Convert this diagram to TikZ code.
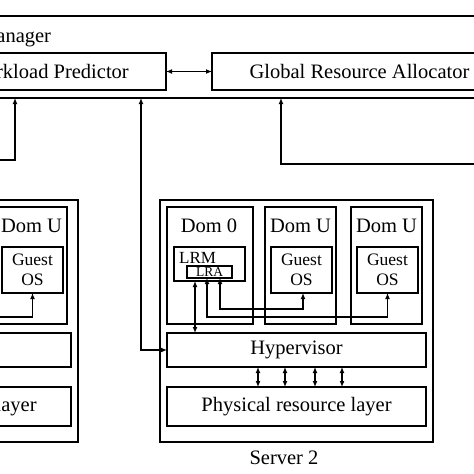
\documentclass[tikz,border=0pt]{standalone}
\usepackage{fontspec}
\setmainfont{Liberation Serif}
\usetikzlibrary{arrows.meta}
\tikzset{
  box/.style={draw, line width=1.7pt, inner sep=0pt, outer sep=0pt},
  big/.style={font=\fontsize{20.5}{24}\selectfont, inner sep=0pt},
  mid/.style={font=\fontsize{17.5}{20.4}\selectfont, inner sep=0pt, align=center},
  lrmtxt/.style={font=\fontsize{17}{19}\selectfont, inner sep=0pt},
  lratxt/.style={font=\fontsize{13.5}{15}\selectfont, inner sep=0pt},
  conn/.style={line width=1.4pt, -{Latex[length=6pt,width=5pt]}},
  dconn/.style={line width=1.4pt, {Latex[length=6pt,width=5pt]}-{Latex[length=6pt,width=5pt]}},
}
\newcommand\bx[5]{\node[box, minimum width={(#4)-(#2)}, minimum height={(#5)-(#3)}] (#1) at ({((#2)+(#4))/2},{((#3)+(#5))/2}) {};}
\newcommand\drawserver[2]{%
  \begin{scope}[xshift=#2]
    \bx{#1outer}{160}{200}{433}{442}
    \bx{#1dom0}{167}{207}{253}{324}
    \node[big] (#1dom0t) at (209,226) {Dom 0};
    \bx{#1lrm}{174}{247}{245}{281}
    \node[lrmtxt, anchor=base west] (#1lrmt) at (179,263) {LRM};
    \bx{#1lra}{187}{266}{232}{278}
    \node[lratxt] (#1lrat) at (209.5,272.5) {LRA};
    \bx{#1domu1}{265}{207}{336}{324}
    \node[big] (#1domu1t) at (300.5,226) {Dom U};
    \bx{#1gos1}{271}{247}{332}{293}
    \node[mid] (#1gos1t) at (301.5,270) {Guest\\OS};
    \bx{#1domu2}{351}{207}{422}{324}
    \node[big] (#1domu2t) at (386.5,226) {Dom U};
    \bx{#1gos2}{357}{247}{418}{293}
    \node[mid] (#1gos2t) at (387.5,270) {Guest\\OS};
    \bx{#1hyp}{167}{333}{426}{367}
    \node[big] (#1hypt) at (296.5,350) {Hypervisor};
    \bx{#1phys}{167}{387}{426}{426}
    \node[big] (#1physt) at (296.5,406.5) {Physical resource layer};
    % LRM <-> hypervisor
    \draw[dconn] ([xshift=-14.5pt]#1lrm.south) -- ([xshift=-101.5pt]#1hyp.north);
    % LRA <-> guest OS
    \draw[dconn] ([xshift=-2.5pt]#1lra.south) -- ++(0,39) -| (#1gos2.south);
    \draw[dconn] ([xshift=10.5pt]#1lra.south) -- ++(0,31) -| ([xshift=1.5pt]#1gos1.south);
    % hypervisor <-> physical layer
    \foreach \dx in {-38.5,-11.5,18.5,45.5}
      \draw[dconn] ([xshift=\dx pt]#1hyp.south) -- ([xshift=\dx pt]#1phys.north);
  \end{scope}}
\begin{document}
\begin{tikzpicture}[x=1pt,y=-1pt]
  \useasboundingbox (0,0) rectangle (474,474);
  \clip (0,0) rectangle (474,474);
  \fill[white] (0,0) rectangle (474,474);
  % manager
  \bx{mgr}{-40}{16}{520}{98}
  \node[big, anchor=base west] (mgrt) at (-22,42.5) {Manager};
  \bx{wp}{-69}{53}{166}{90}
  \node[big] (wpt) at (48.5,71.5) {Workload Predictor};
  \bx{gra}{212}{53}{507}{90}
  \node[big] (grat) at (359.5,71.5) {Global Resource Allocator};
  \draw[dconn] (wp.east) -- (gra.west);
  % servers
  \drawserver{sa}{-355pt}
  \drawserver{sb}{0pt}
  \node[big] (srv2) at (284,458) {Server 2};
  % links to manager
  \coordinate (inL) at (-10,160);
  \coordinate (inR) at (490,164);
  \draw[conn] (inL) -| ([xshift=-225pt]mgr.south);
  \draw[conn] (inR) -| ([xshift=41pt]mgr.south);
  \draw[dconn] (sbhyp.west) -| ([xshift=-99pt]mgr.south);
\end{tikzpicture}
\end{document}
